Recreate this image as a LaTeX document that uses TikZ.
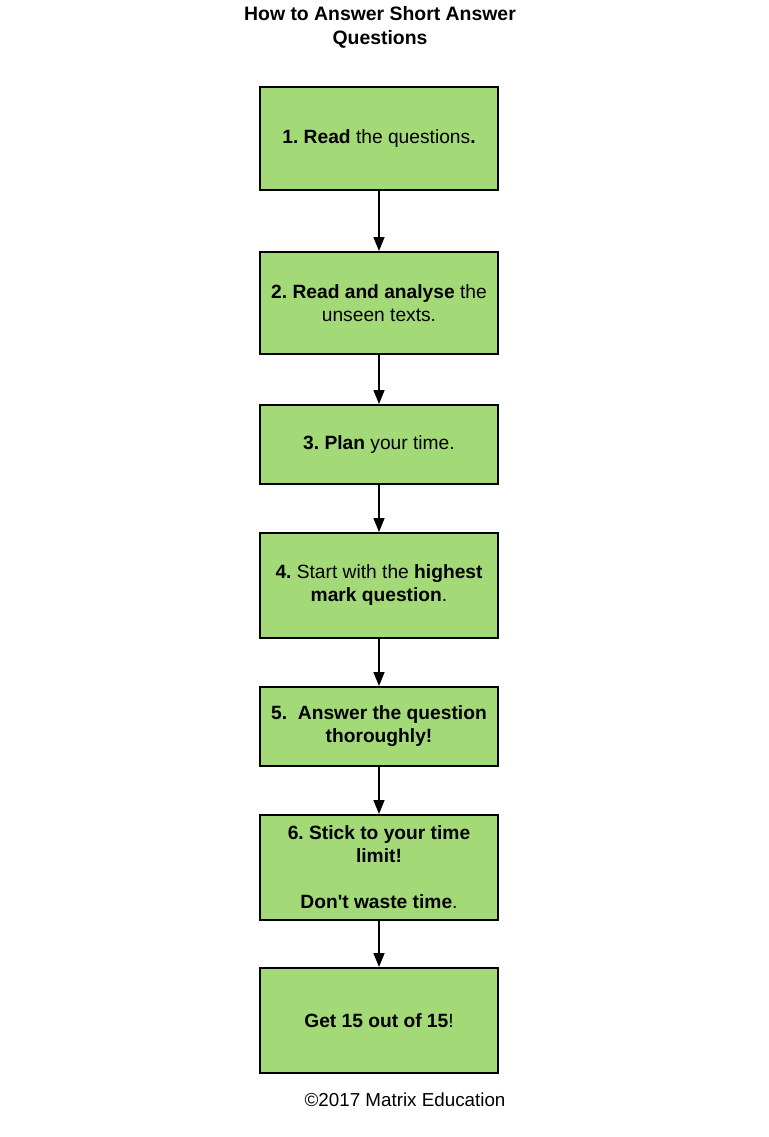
\documentclass[tikz,border=0pt]{standalone}
\usepackage{fontspec}
\setmainfont{Liberation Sans}[Ligatures=TeXOff]
\usetikzlibrary{arrows.meta}
\definecolor{stepgreen}{HTML}{A3D977}
\frenchspacing
\tikzset{
	every step/.style={
		rectangle,
		draw=black,
		line width=1pt,
		fill=stepgreen,
		minimum width=119pt,
		align=center,
		inner sep=0pt,
		font=\fontsize{9.6}{11.5}\selectfont
	},
	flow arrow/.style={
		->,
		line width=0.75pt
	},
}

\begin{document}
\begin{tikzpicture}[x=0.5pt, y=-0.5pt, >={Triangle[length=7pt,width=5.5pt]}]

\useasboundingbox (0,0) rectangle (768,1137);

\node [align=center, font=\bfseries\fontsize{9.7}{12}\selectfont] (title) at (380,27)
	{How to Answer Short Answer\\Questions};

\foreach \y/\h/\t [count=\i] in {
	138.5/103/{\textbf{1. Read} the questions\textbf{.}},
	303/102/{\textbf{2. Read and analyse} the\\unseen texts.},
	444.5/79/{\textbf{3. Plan} your time.},
	585.5/105/{\textbf{4.} Start with the \textbf{highest}\\\textbf{mark question}.},
	726.5/79/{\textbf{5.\ \ Answer the question}\\\textbf{thoroughly!}},
	867.5/105/{\textbf{6. Stick to your time}\\\textbf{limit!}\\[11.5pt]\textbf{Don't waste time}.},
	1020.5/105/{\textbf{Get 15 out of 15}!}}
	\node [every step/.try, minimum height=\h*0.5pt] (step-\i) at (379,\y) {\t};

\foreach \i [evaluate=\i as \j using int(\i+1)] in {1,...,6}
	\draw [flow arrow] (step-\i) -- (step-\j);

\node [font=\fontsize{9.4}{11}\selectfont] (credit) at (405,1100) {\textcopyright2017 Matrix Education};

\end{tikzpicture}
\end{document}
